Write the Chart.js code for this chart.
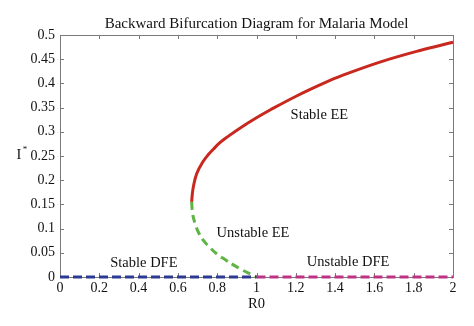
<!DOCTYPE html>
<html>
<head>
<meta charset="utf-8">
<script src="https://cdn.jsdelivr.net/npm/chart.js@4"></script>
<style>
  html, body { margin: 0; padding: 0; background: #fff; }
  canvas { display: block; }
</style>
</head>
<body>
<canvas id="myChart" width="474" height="326"></canvas>
<script>
// curve data (R0, I*)
const stableEE_R0 = [0.67, 0.673, 0.679, 0.696, 0.729, 0.755, 0.78, 0.815, 0.85, 0.925, 1.0, 1.069, 1.204, 1.34, 1.44, 1.628, 1.832, 2.0];
const stableEE_I = [0.155, 0.17, 0.187, 0.214, 0.239, 0.253, 0.264, 0.278, 0.289, 0.31, 0.329, 0.345, 0.374, 0.4, 0.417, 0.444, 0.468, 0.485];

const unstableEE_R0 = [0.67, 0.675, 0.687, 0.705, 0.729, 0.76, 0.797, 0.84, 0.882, 0.93, 0.976, 1.0];
const unstableEE_I = [0.155, 0.13, 0.111, 0.092, 0.076, 0.062, 0.048, 0.036, 0.025, 0.014, 0.005, 0];

const stableDFE_R0 = [0, 1];
const stableDFE_I = [0, 0];
const unstableDFE_R0 = [1, 2];
const unstableDFE_I = [0, 0];

const xTicks = [0, 0.2, 0.4, 0.6, 0.8, 1, 1.2, 1.4, 1.6, 1.8, 2];
const xTickLabels = ["0", "0.2", "0.4", "0.6", "0.8", "1", "1.2", "1.4", "1.6", "1.8", "2"];
const yTicks = [0, 0.05, 0.1, 0.15, 0.2, 0.25, 0.3, 0.35, 0.4, 0.45, 0.5];
const yTickLabels = ["0", "0.05", "0.1", "0.15", "0.2", "0.25", "0.3", "0.35", "0.4", "0.45", "0.5"];

const titulo = "Backward Bifurcation Diagram for Malaria Model";
const etiquetaX = "R0";
const etiquetaY = "I";
const anotaciones = [
  { texto: "Stable EE", x: 1.32, y: 0.334 },
  { texto: "Unstable EE", x: 0.982, y: 0.091 },
  { texto: "Stable DFE", x: 0.427, y: 0.029 },
  { texto: "Unstable DFE", x: 1.466, y: 0.031 },
];

const fuente = "'Liberation Serif', 'DejaVu Serif', serif";

function puntos(xs, ys) {
  return xs.map((x, i) => ({ x: x, y: ys[i] }));
}

// frame with inward ticks, MATLAB style
const marco = {
  id: "marco",
  beforeDatasetsDraw(chart) {
    const { ctx, chartArea: a, scales } = chart;
    ctx.save();
    ctx.strokeStyle = "#7a7a7a";
    ctx.lineWidth = 1;
    ctx.strokeRect(a.left + 0.5, a.top + 0.5, a.right - a.left, a.bottom - a.top);
    ctx.beginPath();
    xTicks.forEach((v) => {
      const px = Math.round(scales.x.getPixelForValue(v)) + 0.5;
      ctx.moveTo(px, a.bottom);
      ctx.lineTo(px, a.bottom - 4);
      ctx.moveTo(px, a.top);
      ctx.lineTo(px, a.top + 4);
    });
    yTicks.forEach((v) => {
      const py = Math.round(scales.y.getPixelForValue(v)) + 0.5;
      ctx.moveTo(a.left, py);
      ctx.lineTo(a.left + 4, py);
      ctx.moveTo(a.right, py);
      ctx.lineTo(a.right - 4, py);
    });
    ctx.stroke();
    ctx.restore();
  },
  afterDraw(chart) {
    const { ctx, chartArea: a, scales } = chart;
    ctx.save();
    ctx.fillStyle = "#111";
    ctx.textAlign = "center";
    ctx.textBaseline = "middle";
    ctx.font = "15px " + fuente;
    ctx.fillText(titulo, (a.left + a.right) / 2, 24);
    ctx.font = "14.5px " + fuente;
    ctx.fillText(etiquetaX, (a.left + a.right) / 2, 304);
    anotaciones.forEach((n) => {
      ctx.fillText(n.texto, scales.x.getPixelForValue(n.x), scales.y.getPixelForValue(n.y));
    });
    ctx.fillText(etiquetaY, 19, 155);
    ctx.font = "9px " + fuente;
    ctx.fillText("*", 25, 150);
    ctx.restore();
  },
};

const ctx = document.getElementById("myChart").getContext("2d");

new Chart(ctx, {
  type: "scatter",
  data: {
    datasets: [
      {
        label: "Stable DFE",
        data: puntos(stableDFE_R0, stableDFE_I),
        showLine: true,
        borderColor: "#2c3a92",
        borderWidth: 3,
        borderDash: [9, 4],
        pointRadius: 0,
        clip: 6,
      },
      {
        label: "Unstable DFE",
        data: puntos(unstableDFE_R0, unstableDFE_I),
        showLine: true,
        borderColor: "#bd3384",
        borderWidth: 3,
        borderDash: [9, 4],
        pointRadius: 0,
        clip: 6,
      },
      {
        label: "Unstable EE",
        data: puntos(unstableEE_R0, unstableEE_I),
        showLine: true,
        borderColor: "#5db443",
        borderWidth: 3,
        borderDash: [8, 5],
        pointRadius: 0,
        tension: 0.4,
        clip: 6,
      },
      {
        label: "Stable EE",
        data: puntos(stableEE_R0, stableEE_I),
        showLine: true,
        borderColor: "#c8281e",
        borderWidth: 3,
        pointRadius: 0,
        tension: 0.4,
        clip: 6,
      },
    ],
  },
  options: {
    responsive: false,
    animation: false,
    layout: {
      padding: { top: 35, right: 21, bottom: 0, left: 0 },
    },
    plugins: {
      legend: { display: false },
      tooltip: { enabled: false },
      title: { display: false },
    },
    scales: {
      x: {
        type: "linear",
        min: 0,
        max: 2,
        afterBuildTicks: (s) => {
          s.ticks = xTicks.map((v) => ({ value: v }));
        },
        afterFit: (s) => {
          s.height = 49;
        },
        grid: { display: false, drawTicks: false },
        border: { display: false },
        ticks: {
          padding: 3,
          color: "#111",
          font: { family: fuente, size: 14 },
          maxRotation: 0,
          autoSkip: false,
          callback: (v) => xTickLabels[xTicks.indexOf(v)],
        },
      },
      y: {
        type: "linear",
        min: 0,
        max: 0.5,
        afterBuildTicks: (s) => {
          s.ticks = yTicks.map((v) => ({ value: v }));
        },
        afterFit: (s) => {
          s.width = 60;
        },
        grid: { display: false, drawTicks: false },
        border: { display: false },
        ticks: {
          padding: 5,
          color: "#111",
          font: { family: fuente, size: 14 },
          autoSkip: false,
          callback: (v) => yTickLabels[yTicks.indexOf(v)],
        },
      },
    },
  },
  plugins: [marco],
});
</script>
</body>
</html>
